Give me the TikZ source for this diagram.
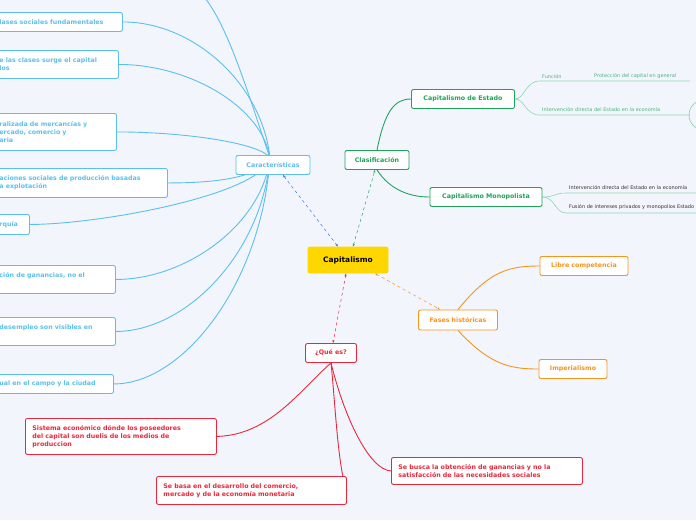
\documentclass[tikz,border=0pt]{standalone}
\usepackage{fontspec}
\setmainfont{DejaVu Sans}
\usetikzlibrary{arrows.meta,calc,backgrounds}
\definecolor{bg}{HTML}{F3F5FD}
\definecolor{cb}{HTML}{5BC0EB}
\definecolor{cg}{HTML}{1FA35A}
\definecolor{cgl}{HTML}{8FD6B0}
\definecolor{co}{HTML}{F7941D}
\definecolor{cr}{HTML}{E8283A}
\definecolor{cy}{HTML}{FFD700}
\tikzset{
 bx/.style={draw, line width=0.9pt, rounded corners=2pt, fill=white, font=\fontsize{6.3}{8}\selectfont\bfseries, inner sep=3pt, align=left},
 bl/.style={bx, draw=cb, text=cb},
 gr/.style={bx, draw=cg, text=cg},
 og/.style={bx, draw=co, text=co},
 rd/.style={bx, draw=cr, text=cr, inner xsep=7pt},
 lf/.style={font=\fontsize{5}{6}\selectfont, inner sep=1pt, anchor=south west},
 ln/.style={line width=0.9pt},
 dsh/.style={dashed, line width=0.5pt, {Stealth[length=3pt]}-{Stealth[length=3pt]}},
}
\begin{document}
\begin{tikzpicture}[x=1pt,y=-1pt]
\useasboundingbox (0,0) rectangle (696,520);
\clip (0,0) rectangle (696,520);
% center
\node[bx, draw=cy, fill=cy, minimum width=80, minimum height=26, font=\fontsize{7.5}{9}\selectfont\bfseries] (cap) at (348,260) {Capitalismo};
\node[bl, minimum width=74, minimum height=19] (car) at (273,165) {Características};
\node[gr, minimum width=64, minimum height=19] (cla) at (377,160) {Clasificación};
\node[og, minimum width=79, minimum height=20] (fas) at (458,320) {Fases históricas};
\node[rd, inner xsep=3pt, minimum width=51, minimum height=19] (que) at (331,353) {¿Qué es?};
% left blue boxes
\tikzset{lb/.style={bl, anchor=north west, minimum height=#1}}
\node[lb=19, text width=120] (b1) at (-4,12) {lases sociales fundamentales};
\node[lb=28, text width=116] (b2) at (-4,50) {e las clases surge el capital\\los};
\node[lb=37, text width=114] (b3) at (-4,113) {ralizada de mercancías y\\ercado, comercio y\\aria};
\node[lb=29, text width=165] (b4) at (-4,168) {aciones sociales de producción basadas\\a explotación};
\node[lb=20, text width=27] (b5) at (-4,214) {rquía};
\node[lb=28, text width=113] (b6) at (-4,265) {ción de ganancias, no el\\\mbox{}};
\node[lb=28, text width=113] (b7) at (-4,317) {desempleo son visibles en\\\mbox{}};
\node[lb=19, text width=111] (b8) at (-4,374) {ual en el campo y la ciudad};
\coordinate (cs) at (270,158);
\coordinate (top) at (205,-2);
% green
\node[gr, minimum width=103, minimum height=19] (ce) at (463,99) {Capitalismo de Estado};
\node[gr, minimum width=112, minimum height=19] (cm) at (486,197) {Capitalismo Monopolista};
% orange
\node[og, minimum width=88, minimum height=19] (lc) at (584,266) {Libre competencia};
\node[og, minimum width=68, minimum height=19] (im) at (573,369) {Imperialismo};
% red
\node[rd, anchor=north west, minimum width=191, minimum height=36, text width=177] (r1) at (25,418) {Sistema económico dónde los poseedores\\del capital son duelis de los medios de\\produccion};
\node[rd, anchor=north west, minimum width=190, minimum height=28, text width=176] (r2) at (156,476) {Se basa en el desarrollo del comercio,\\mercado y de la economía monetaria};
\node[rd, anchor=north west, minimum width=191, minimum height=27, text width=177] (r3) at (391,457) {Se busca la obtención de ganancias y no la\\satisfacción de las necesidades sociales};
\tikzset{gl/.style={line width=0.6pt, cgl}}
\node[lf, text=cg!80] (t1) at (541,80) {Función};
\node[lf, text=cg!80] (t2) at (593,80) {Protección del capital en general};
\node[lf, text=cg!80] (t3) at (541,113) {Intervención directa del Estado en la economía};
\node[lf, text=black!80] (t4) at (568,191) {Intervención directa del Estado en la economía};
\node[lf, text=black!80] (t5) at (568,211) {Fusión de intereses privados y monopolios Estado};
\begin{scope}[on background layer]
\fill[bg] (0,0) rectangle (696,520);
\draw[dsh, cb!60!blue] ([xshift=10pt]car.south) -- ([xshift=-10pt]cap.north);
\draw[dsh, cg] ([xshift=5pt]cap.north) -- ([xshift=-2pt]cla.south);
\draw[dsh, co] ([xshift=27pt]cap.south) -- ([xshift=-18pt]fas.north);
\draw[dsh, cr] ([xshift=-2pt]cap.south) -- ([xshift=2pt]que.north);
\draw[ln, cb] (cs) .. controls (250,100) and (230,30) .. (top);
\foreach \b in {b1,b2,b3,b4,b5,b6,b7,b8}{
  \draw[ln, cb] (\b.east) .. controls +(70,0) and ($(cs)!0.55!(cs |- \b.east)+(-8,0)$) .. (cs);
}
\draw[ln, cg] (cla.north) .. controls (385,110) and (395,99) .. (ce.west);
\draw[ln, cg] (cla.south) .. controls (390,190) and (410,197) .. (cm.west);
\coordinate (f1) at (540,81); \coordinate (f2) at (690,81);
\coordinate (i1) at (540,115); \coordinate (i2) at (690,115);
\draw[gl] (ce.east) .. controls (525,99) and (525,81) .. (f1) -- (f2);
\draw[gl] (ce.east) .. controls (525,99) and (525,115) .. (i1) -- (i2);
\draw[gl, line width=0.7pt] (704,115) circle (15);
\coordinate (m1) at (566,193); \coordinate (m2) at (700,193);
\coordinate (n1) at (566,213); \coordinate (n2) at (700,213);
\draw[gl] (cm.east) .. controls (555,197) and (555,193) .. (m1) -- (m2);
\draw[gl] (cm.east) .. controls (555,197) and (555,213) .. (n1) -- (n2);
\draw[ln, co] (fas.north) .. controls (490,270) and (510,266) .. (lc.west);
\draw[ln, co] (fas.south) .. controls (490,365) and (510,369) .. (im.west);
\draw[ln, cr] (que.south) .. controls (300,390) and (270,435) .. (r1.east);
\draw[ln, cr] (que.south) .. controls (335,400) and (338,470) .. (r2.east);
\draw[ln, cr] (que.south) .. controls (345,420) and (370,470) .. (r3.west);
\end{scope}
\end{tikzpicture}
\end{document}
